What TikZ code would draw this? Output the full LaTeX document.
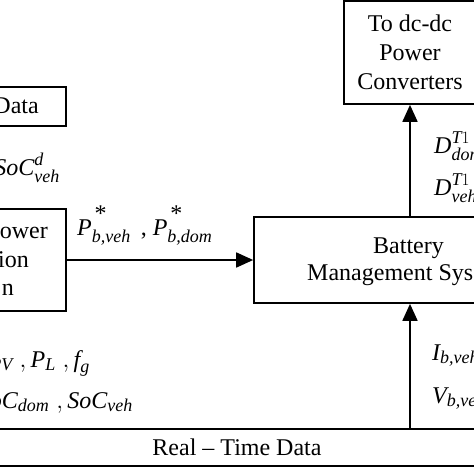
\documentclass[tikz,border=0pt]{standalone}
\usepackage{amsmath}
\usepackage{fontspec}
\setmainfont{Liberation Serif}
\usetikzlibrary{arrows.meta}
\DeclareMathSizes{24}{24}{18}{14}
\newcommand{\ti}[1]{\textit{#1}}
\newcommand{\st}{\raisebox{4pt}{\textup{*}}}
\begin{document}
\begin{tikzpicture}[x=1pt,y=-1pt,
  box/.style={draw, line width=1.7pt, inner sep=0pt},
  arr/.style={line width=1.8pt, -{Triangle[length=17pt,width=15pt]}},
  txt/.style={font=\fontsize{24}{29}\selectfont, inner sep=0pt},
  lab/.style={font=\fontsize{24}{29}\selectfont, inner sep=0pt}]
\useasboundingbox (0,0) rectangle (474,474);
\clip (0,0) rectangle (474,474);
% boxes
\node[box, minimum width=166pt, minimum height=39pt] (data) at (-17,106.5) {};
\node[box, minimum width=200pt, minimum height=102pt] (opt) at (-34,260) {};
\node[box, minimum width=312pt, minimum height=86pt] (bms) at (410,260) {};
\node[box, txt, align=center, minimum width=132pt, minimum height=103pt] (conv) at (410,52.5) {To dc-dc\\Power\\Converters};
\node[box, txt, minimum width=494pt, minimum height=37pt] (rtd) at (237,447.5) {Real -- Time Data};
% texts in cropped boxes
\node[txt, anchor=base east] (tdata) at (39,113) {Data};
\node[txt, anchor=base east] (topt1) at (48,238) {ower};
\node[txt, anchor=base east] (topt2) at (29,267) {ion};
\node[txt, anchor=base east] (topt3) at (14,295) {n};
\node[txt, anchor=base] (tbms1) at (408.5,253) {Battery};
\node[txt, anchor=base west] (tbms2) at (307,280) {Management Sys};
% connectors
\draw[arr] (opt.east) -- (bms.west);
\draw[arr] (bms.north) -- (conv.south);
\draw[arr] (bms.south |- rtd.north) -- (bms.south);
% labels
\node[lab, anchor=base east] (lsocd) at (60,175) {$\ti{SoC}^{\ti{d}}_{\ti{veh}}$};
\node[lab, anchor=base west] (lpstar) at (77,235) {$\ti{P}^{\,\st}_{\ti{b,veh}}$\hspace{10pt},\hspace{6pt}$\ti{P}^{\,\st}_{\ti{b,dom}}$};
\node[lab, anchor=base west] (ld1) at (434,153) {$\ti{D}^{\ti{T}1}_{\ti{dom}}$};
\node[lab, anchor=base west] (ld2) at (434,195) {$\ti{D}^{\ti{T}1}_{\ti{veh}}$};
\node[lab, anchor=base west] (li) at (432,360) {$\ti{I}_{\ti{b,veh}}$};
\node[lab, anchor=base west] (lv) at (432,403) {$\ti{V}_{\ti{b,veh}}$};
\node[lab, anchor=base east] (lp) at (90,367) {$\ti{P}_{\ti{PV}}\;,\ti{P}_{\ti{L}}\;,\ti{f}_{\ti{g}}$};
\node[lab, anchor=base east] (lsoc) at (133,408) {$\ti{SoC}_{\ti{dom}}\;,\ti{SoC}_{\ti{veh}}$};
\end{tikzpicture}
\end{document}
